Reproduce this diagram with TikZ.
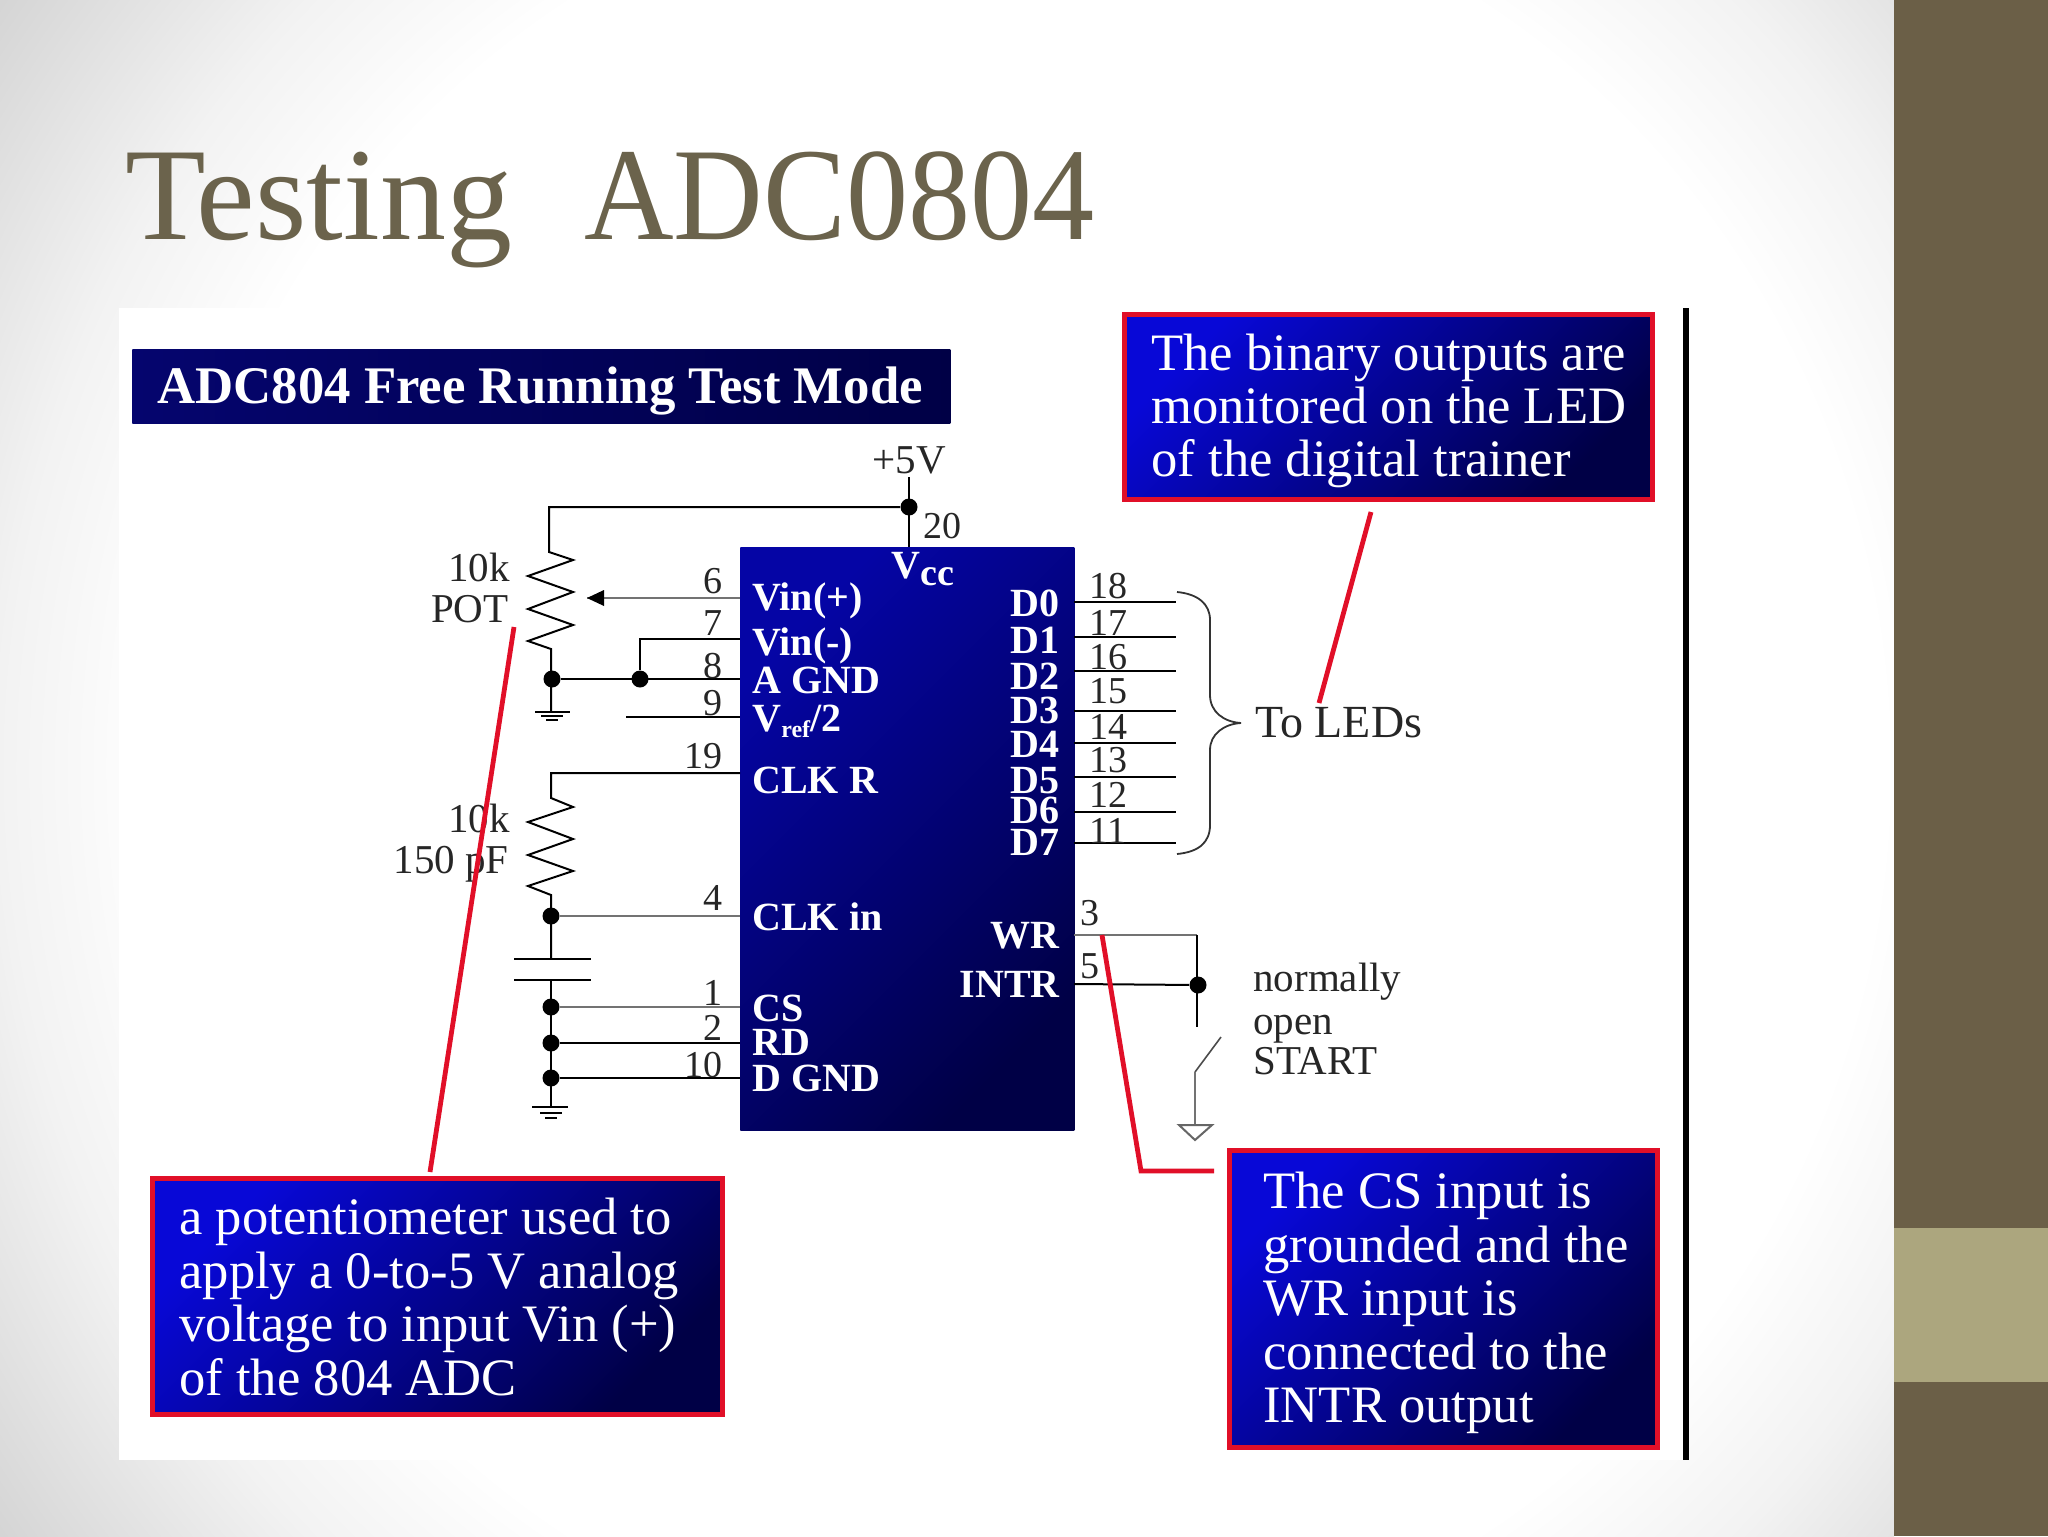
\documentclass[tikz,border=0pt]{standalone}
\usepackage{fontspec}
\setmainfont{Liberation Serif}
\usetikzlibrary{positioning}
\definecolor{bandDark}{HTML}{6B5F47}
\definecolor{bandLight}{HTML}{ACA67E}
\definecolor{titleInk}{HTML}{6B634C}
\definecolor{chipLight}{RGB}{5,5,165}
\definecolor{chipDark}{RGB}{0,0,70}
\definecolor{boxLight}{RGB}{8,8,215}
\definecolor{bannerLight}{RGB}{5,5,110}
\definecolor{leaderRed}{RGB}{225,15,40}
\definecolor{bgMid}{gray}{0.95}
\definecolor{bgEdge}{gray}{0.83}
\tikzset{
    wire/.style={black,line width=1pt},
    softwire/.style={black!55,line width=1.2pt},
    leader/.style={leaderRed,line width=2.4pt},
    joint/.style={circle,fill,inner sep=0pt,minimum size=8.5pt},
    pinname/.style={text=white,font=\fontsize{20}{22}\selectfont\bfseries,inner sep=0pt},
    pinnum/.style={text=black!85,font=\fontsize{19}{21}\selectfont,inner sep=0pt},
    schemtext/.style={text=black!85,font=\fontsize{20.5}{22}\selectfont,inner sep=0pt},
    chipfill/.style={top color=chipLight,bottom color=chipDark,shading angle=45},
    calloutbox/.style={top color=boxLight,bottom color=chipDark,shading angle=45,draw=leaderRed,line width=2.5pt,inner sep=0pt,outer sep=0pt,anchor=north west},
    callouttext/.style={text=white,align=left,inner sep=0pt,anchor=west,font=\fontsize{26.3}{26.7}\selectfont},
}
\pgfdeclareradialshading{slidebg}{\pgfpoint{0bp}{0bp}}{color(0bp)=(white); color(21bp)=(white); color(25bp)=(bgMid); color(31bp)=(bgEdge); color(50bp)=(bgEdge)}

\begin{document}
\begin{tikzpicture}[x=0.5pt,y=-0.5pt]
            \useasboundingbox (0,0) rectangle (2048,1536);

            \begin{scope}
                \clip (0,0) rectangle (1894,1536);
                \shade[shading=slidebg] (0,-300) rectangle (2048,1836);
            \end{scope}
            \fill[bandDark] (1894,0) rectangle (2048,1536);
            \fill[bandLight] (1894,1228) rectangle (2048,1382);
            \fill[white] (119,308) rectangle (1686,1460);
            \draw[black,line width=3pt] (1686,308) -- (1686,1460);

            \node[anchor=base west,inner sep=0pt,text=titleInk,font=\fontsize{66}{70}\selectfont] (heading) at (125,239) {Testing\hspace{36pt}\scalebox{0.94}[1]{ADC0804}};

            \node[left color=bannerLight,right color=chipDark,anchor=north west,minimum width=409pt,minimum height=37pt,inner sep=0pt] (banner) at (132,349) {};
            \node[anchor=west,inner sep=0pt,text=white,font=\fontsize{26.4}{28}\selectfont\bfseries] (bannertext) at (157,391) {ADC804 Free Running Test Mode};

            \node[chipfill,anchor=north west,minimum width=167pt,minimum height=291.5pt,inner sep=0pt] (chip) at (740,547) {};

            \coordinate (five) at (909,477);
            \coordinate (vcc) at (909,547);
            \coordinate (rail) at (909,507);
            \coordinate (pota) at (549,507);
            \coordinate (potb) at (549,552);
            \coordinate (potc) at (551,649);
            \coordinate (potgnd) at (551,712);
            \coordinate (agnd) at (740,679);
            \coordinate (vinm) at (740,639);
            \coordinate (vinmb) at (640,639);
            \coordinate (vinp) at (740,598);
            \coordinate (wiper) at (587,598);
            \coordinate (vref) at (740,717);
            \coordinate (vrefb) at (626,717);
            \coordinate (clkr) at (740,773);
            \coordinate (clkra) at (551,773);
            \coordinate (clkrb) at (551,798);
            \coordinate (clkrc) at (551,895);
            \coordinate (clkin) at (740,916);
            \coordinate (capa) at (551,959);
            \coordinate (capb) at (551,980);
            \coordinate (cs) at (740,1007);
            \coordinate (rd) at (740,1043);
            \coordinate (dgnd) at (740,1078);
            \coordinate (botgnd) at (551,1107);

            \node[joint] (jrail) at (rail) {};
            \node[joint] (jpot) at (552,679) {};
            \node[joint] (jvin) at (640,679) {};
            \node[joint] (jclk) at (551,916) {};
            \node[joint] (jcs) at (551,1007) {};
            \node[joint] (jrd) at (551,1043) {};
            \node[joint] (jdgnd) at (551,1078) {};

            \draw[wire] (five) -- (vcc);
            \draw[wire] (jrail) -- (pota) -- (potb) -- (573,560) -- (528,576) -- (573,592) -- (528,609) -- (573,625) -- (528,641) -- (potc) -- (potgnd);
            \draw[wire] (jpot) -- (agnd);
            \draw[wire] (jvin) -- (vinmb) -- (vinm);
            \draw[softwire] (vinp) -- (wiper);
            \fill[black] (wiper) -- (604,590) -- (604,606) -- cycle;
            \draw[wire] (vrefb) -- (vref);
            \draw[wire] (clkr) -- (clkra) -- (clkrb) -- (573,807) -- (528,822) -- (573,839) -- (528,855) -- (573,871) -- (528,886) -- (clkrc) -- (capa);
            \draw[softwire] (jclk) -- (clkin);
            \draw[wire] (514,959) -- (591,959);
            \draw[wire] (514,980) -- (591,980);
            \draw[wire] (capb) -- (botgnd);
            \draw[softwire] (jcs) -- (cs);
            \draw[wire] (jrd) -- (rd);
            \draw[wire] (jdgnd) -- (dgnd);
            \draw[wire] (535,712) -- (570,712);
            \draw[wire] (541,716) -- (563,716);
            \draw[wire] (546,720) -- (558,720);
            \draw[wire] (532,1107) -- (568,1107);
            \draw[wire] (540,1113) -- (562,1113);
            \draw[wire] (545,1118) -- (557,1118);

            \coordinate (d0) at (1074,602);
            \coordinate (d1) at (1074,637);
            \coordinate (d2) at (1074,671);
            \coordinate (d3) at (1074,711);
            \coordinate (d4) at (1074,743);
            \coordinate (d5) at (1074,777);
            \coordinate (d6) at (1074,812);
            \coordinate (d7) at (1074,843);
            \draw[wire] (d0) -- (1176,602);
            \draw[wire] (d1) -- (1176,637);
            \draw[wire] (d2) -- (1176,671);
            \draw[wire] (d3) -- (1176,711);
            \draw[wire] (d4) -- (1176,743);
            \draw[wire] (d5) -- (1176,777);
            \draw[wire] (d6) -- (1176,812);
            \draw[wire] (d7) -- (1176,843);
            \draw[black!80,line width=0.9pt] (1177,592) .. controls (1198,594) and (1210,604) .. (1210,620) -- (1210,695) .. controls (1210,712) and (1224,722) .. (1241,723) .. controls (1224,724) and (1210,734) .. (1210,750) -- (1210,825) .. controls (1210,843) and (1198,852) .. (1177,854);

            \coordinate (wr) at (1074,935);
            \coordinate (wrb) at (1197,935);
            \coordinate (intr) at (1074,984);
            \coordinate (swa) at (1197,1027);
            \coordinate (swb) at (1221,1037);
            \coordinate (swc) at (1195,1072);
            \coordinate (swd) at (1195,1125);
            \node[joint] (jstart) at (1198,985) {};
            \draw[softwire] (wr) -- (wrb);
            \draw[wire] (wrb) -- (swa);
            \draw[wire] (intr) -- (jstart);
            \draw[black!70,line width=0.8pt] (swb) -- (swc);
            \draw[softwire] (swc) -- (swd);
            \draw[black!60,line width=1pt] (1179,1125) -- (1212,1125) -- (1195,1140) -- cycle;

            \node[schemtext,anchor=base] (plusfive) at (909,473) {+5V};
            \node[pinnum,anchor=base west] (n20) at (923,538) {20};
            \node[schemtext,anchor=base east] (rone) at (510,581) {10k};
            \node[schemtext,anchor=base east] (pot) at (509,622) {POT};
            \node[schemtext,anchor=base east] (rtwo) at (510,832) {10k};
            \node[schemtext,anchor=base east] (ctwo) at (509,873) {150 pF};

            \node[pinnum,anchor=base east] (n6) at (723,593) {6};
            \node[pinnum,anchor=base east] (n7) at (723,635) {7};
            \node[pinnum,anchor=base east] (n8) at (723,678) {8};
            \node[pinnum,anchor=base east] (n9) at (723,715) {9};
            \node[pinnum,anchor=base east] (n19) at (723,768) {19};
            \node[pinnum,anchor=base east] (n4) at (723,910) {4};
            \node[pinnum,anchor=base east] (n1) at (723,1005) {1};
            \node[pinnum,anchor=base east] (n2) at (723,1040) {2};
            \node[pinnum,anchor=base east] (n10) at (723,1077) {10};

            \node[pinnum,anchor=base west] (n18) at (1089,598) {18};
            \node[pinnum,anchor=base west] (n17) at (1089,635) {17};
            \node[pinnum,anchor=base west] (n16) at (1089,669) {16};
            \node[pinnum,anchor=base west] (n15) at (1089,703) {15};
            \node[pinnum,anchor=base west] (n14) at (1089,739) {14};
            \node[pinnum,anchor=base west] (n13) at (1089,772) {13};
            \node[pinnum,anchor=base west] (n12) at (1089,807) {12};
            \node[pinnum,anchor=base west] (n11) at (1089,843) {11};
            \node[pinnum,anchor=base west] (n3) at (1080,925) {3};
            \node[pinnum,anchor=base west] (n5) at (1080,978) {5};

            \node[pinname,anchor=base west] (lvinp) at (752,610) {Vin(+)};
            \node[pinname,anchor=base west] (lvinm) at (752,655) {Vin(-)};
            \node[pinname,anchor=base west] (lagnd) at (752,693) {A GND};
            \node[pinname,anchor=base west] (lvref) at (752,731) {V\raisebox{-0.35ex}{\fontsize{12}{12}\selectfont ref}/2};
            \node[pinname,anchor=base west] (lclkr) at (752,793) {CLK R};
            \node[pinname,anchor=base west] (lclkin) at (752,930) {CLK in};
            \node[pinname,anchor=base west] (lcs) at (752,1021) {CS};
            \node[pinname,anchor=base west] (lrd) at (752,1055) {RD};
            \node[pinname,anchor=base west] (ldgnd) at (752,1091) {D GND};
            \node[pinname,anchor=base west] (lvcc) at (891,578) {V\raisebox{-0.4ex}{\fontsize{19}{19}\selectfont cc}};

            \node[pinname,anchor=base east] (ld0) at (1060,616) {D0};
            \node[pinname,anchor=base east] (ld1) at (1060,653) {D1};
            \node[pinname,anchor=base east] (ld2) at (1060,689) {D2};
            \node[pinname,anchor=base east] (ld3) at (1060,723) {D3};
            \node[pinname,anchor=base east] (ld4) at (1060,757) {D4};
            \node[pinname,anchor=base east] (ld5) at (1060,793) {D5};
            \node[pinname,anchor=base east] (ld6) at (1060,823) {D6};
            \node[pinname,anchor=base east] (ld7) at (1060,855) {D7};
            \node[pinname,anchor=base east] (lwr) at (1060,948) {WR};
            \node[pinname,anchor=base east] (lintr) at (1060,997) {INTR};

            \node[schemtext,anchor=base west,font=\fontsize{23}{25}\selectfont] (toled) at (1255,737) {To LEDs};
            \node[schemtext,anchor=base west] (swnorm) at (1253,991) {normally};
            \node[schemtext,anchor=base west] (swopen) at (1253,1034) {open};
            \node[schemtext,anchor=base west] (swstart) at (1253,1074) {START};

            \node[calloutbox,minimum width=264pt,minimum height=92.5pt] (ledbox) at (1124,314) {};
            \node[callouttext] (ledtext) at (1151,411) {The binary outputs are\\monitored on the LED\\of the digital trainer};
            \node[calloutbox,minimum width=285pt,minimum height=118pt] (potbox) at (152,1178) {};
            \node[callouttext] (pottext) at (179,1297) {a potentiometer used to\\apply a 0-to-5 V analog\\voltage to input Vin (+)\\of the 804 ADC};
            \node[calloutbox,minimum width=214pt,minimum height=148.5pt] (csbox) at (1229,1150) {};
            \node[callouttext] (cstext) at (1263,1303) {The CS input is\\grounded and the\\WR input is\\connected to the\\INTR output};

            \coordinate (ledtop) at (1371,512);
            \coordinate (ledend) at (1319,703);
            \coordinate (potend) at (514,627);
            \coordinate (potfoot) at (430,1172);
            \coordinate (csend) at (1102,935);
            \coordinate (csbend) at (1141,1171);
            \coordinate (csfoot) at (1214,1171);
            \draw[leader] (ledtop) -- (ledend);
            \draw[leader] (potend) -- (potfoot);
            \draw[leader] (csend) -- (csbend) -- (csfoot);
        \end{tikzpicture}
\end{document}
